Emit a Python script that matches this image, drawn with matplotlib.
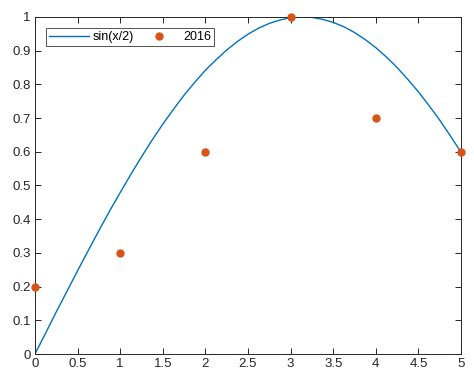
import matplotlib.pyplot as plt

plt.rcParams['font.family'] = ['Liberation Sans', 'DejaVu Sans']

# curve values (sin(x/2))
curve_x = [0, 0.125, 0.25, 0.375, 0.5, 0.625, 0.75, 0.875, 1, 1.125, 1.25, 1.375,
           1.5, 1.625, 1.75, 1.875, 2, 2.125, 2.25, 2.375, 2.5, 2.625, 2.75, 2.875,
           3, 3.125, 3.25, 3.375, 3.5, 3.625, 3.75, 3.875, 4, 4.125, 4.25, 4.375,
           4.5, 4.625, 4.75, 4.875, 5]
curve_y = [0, 0.062, 0.125, 0.186, 0.247, 0.307, 0.366, 0.424, 0.479, 0.533, 0.585, 0.635,
           0.682, 0.726, 0.768, 0.806, 0.842, 0.873, 0.902, 0.927, 0.949, 0.967, 0.981, 0.991,
           0.998, 1.000, 0.999, 0.993, 0.984, 0.971, 0.954, 0.933, 0.909, 0.881, 0.850, 0.815,
           0.778, 0.737, 0.694, 0.647, 0.599]

# scatter points for 2016
pts_x = [0, 1, 2, 3, 4, 5]
pts_y = [0.2, 0.3, 0.6, 1.0, 0.7, 0.6]

xticks = [0, 0.5, 1, 1.5, 2, 2.5, 3, 3.5, 4, 4.5, 5]
yticks = [0, 0.1, 0.2, 0.3, 0.4, 0.5, 0.6, 0.7, 0.8, 0.9, 1]

fig = plt.figure(figsize=(4.74, 3.86), dpi=100)
ax = fig.add_axes([0.0738, 0.0829, 0.8988, 0.8731])

ax.plot(curve_x, curve_y, color='#0072BD', lw=1.0, label='sin(x/2)')
ax.plot(pts_x, pts_y, 'o', color='#D95319', ms=5, label='2016', clip_on=False, zorder=5)

ax.set_xlim(0, 5)
ax.set_ylim(0, 1)
ax.set_xticks(xticks)
ax.set_xticklabels([f'{t:g}' for t in xticks])
ax.set_yticks(yticks)
ax.set_yticklabels([f'{t:g}' for t in yticks])

for s in ax.spines.values():
    s.set_linewidth(0.7)
    s.set_color('#262626')
ax.tick_params(direction='in', top=True, right=True, length=4, width=0.7,
               colors='#262626', labelsize=9.5, pad=3)

leg = ax.legend(loc='upper left', ncol=2, fontsize=9, frameon=True, fancybox=False,
                handlelength=3.2, columnspacing=0.4, borderpad=0.25, borderaxespad=0,
                bbox_to_anchor=(0.026, 0.968), handletextpad=0.3)
leg.get_frame().set_edgecolor('#262626')
leg.get_frame().set_linewidth(0.7)

fig.savefig('out.png', dpi=100)
